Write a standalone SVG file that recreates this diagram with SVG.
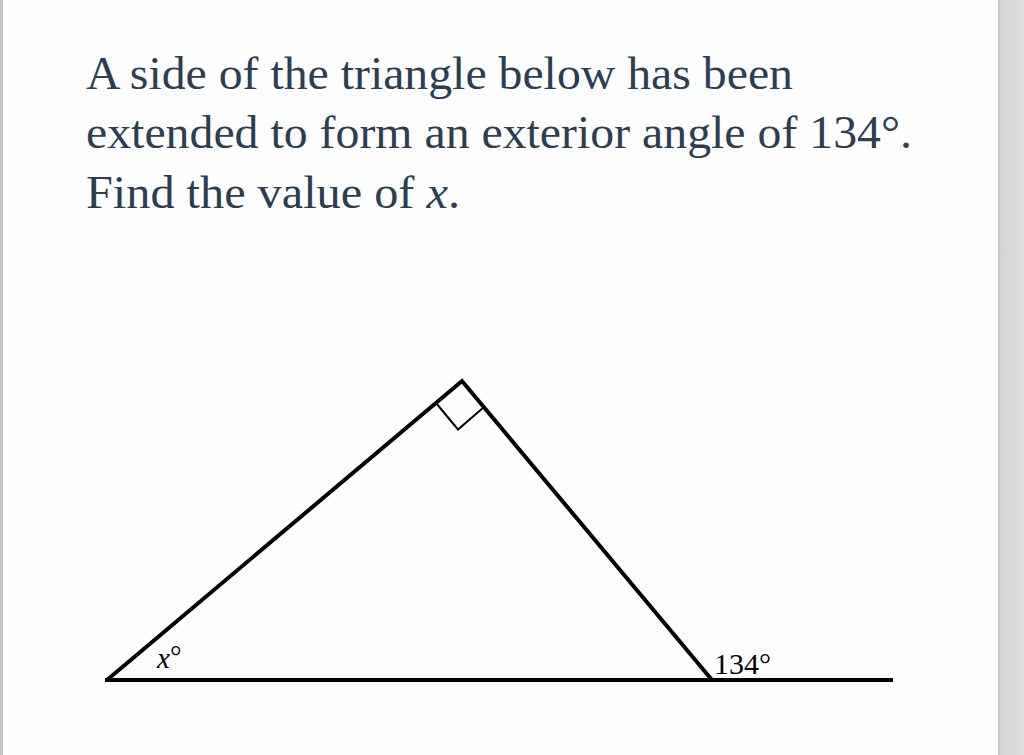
<svg xmlns="http://www.w3.org/2000/svg" width="1024" height="755" viewBox="0 0 1024 755">
<style>
.q{font-family:"Liberation Serif","Times New Roman",serif;font-size:47px;fill:#2b3e52}
.lbl{font-family:"Liberation Serif","Times New Roman",serif;font-size:29px;fill:#000}
.edge{fill:none;stroke:#000;stroke-width:4;stroke-linejoin:miter;stroke-linecap:butt}
</style>
<defs>
<linearGradient id="bar" x1="0" y1="0" x2="1" y2="0">
<stop offset="0" stop-color="#c2c2c2"/>
<stop offset="0.12" stop-color="#d6d6d6"/>
<stop offset="1" stop-color="#dedede"/>
</linearGradient>
</defs>
<rect width="1024" height="755" fill="#fefefe"/>
<rect x="0" y="0" width="3" height="755" fill="#c4c4c4"/>
<rect x="998" y="0" width="26" height="755" fill="url(#bar)"/>
<g id="question">
<text class="q" x="86" y="89" textLength="707" lengthAdjust="spacingAndGlyphs">A side of the triangle below has been</text>
<text class="q" x="86" y="148" textLength="826" lengthAdjust="spacingAndGlyphs">extended to form an exterior angle of 134°.</text>
<text class="q" x="86" y="208" textLength="374" lengthAdjust="spacingAndGlyphs">Find the value of <tspan font-style="italic">x</tspan>.</text>
</g>
<g id="connectors">
<polyline id="triangle" class="edge" points="107,680 462,381 712,680"/>
<line id="base" class="edge" x1="105" y1="680" x2="893" y2="680"/>
<polyline id="right-angle" fill="none" stroke="#000" stroke-width="2" points="436,403 458,429.5 484,407"/>
</g>
<g id="label-x">
<text class="lbl" x="157" y="668" font-style="italic" font-size="31">x<tspan font-style="normal" dy="-2">°</tspan></text>
</g>
<g id="label-134">
<text class="lbl" x="714" y="674" textLength="57" lengthAdjust="spacingAndGlyphs">134°</text>
</g>
</svg>
